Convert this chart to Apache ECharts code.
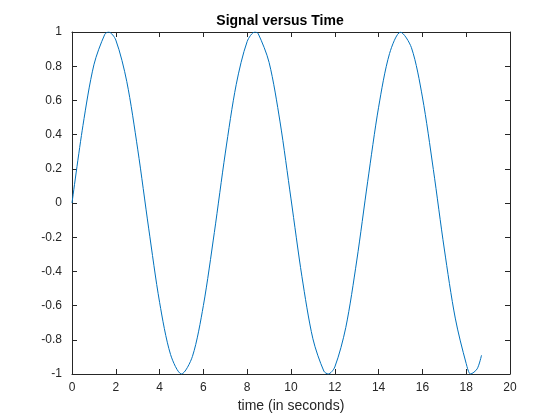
<!DOCTYPE html>
<html>
<head>
<meta charset="utf-8">
<script src="https://cdn.jsdelivr.net/npm/echarts@6/dist/echarts.min.js"></script>
<style>html,body{margin:0;background:#fff}#main{width:560px;height:420px}</style>
</head>
<body>
<div id="main"></div>
<script>
// values
var time = [0, 0.5, 1, 1.5, 1.67, 2, 2.5, 3, 3.5, 4, 4.5, 5, 5.5, 6, 6.5, 7, 7.5, 8, 8.35, 8.5, 9, 9.5,
  10, 10.5, 11, 11.5, 11.7, 12, 12.5, 13, 13.5, 14, 14.5, 15, 15.5, 16, 16.5, 17, 17.5, 18, 18.2, 18.5, 18.7];
var signal = [0, 0.453, 0.808, 0.987, 1.0, 0.953, 0.711, 0.315, -0.147, -0.581, -0.886, -1.0, -0.897,
  -0.599, -0.172, 0.292, 0.694, 0.945, 1.0, 0.991, 0.822, 0.474, 0.024, -0.431, -0.794, -0.983, -1.0, -0.959,
  -0.729, -0.339, 0.124, 0.56, 0.874, 0.999, 0.908, 0.62, 0.196, -0.269, -0.673, -0.939, -1.0, -0.97, -0.89];

var pts = time.map(function (t, i) { return [t, signal[i]]; });
var chart = echarts.init(document.getElementById('main'));

var txt = { color: '#262626', fontFamily: 'Liberation Sans, Arial', fontSize: 12 };
var line = { onZero: false, lineStyle: { color: '#262626', width: 1 } };
var tick = { inside: true, length: 5, lineStyle: { color: '#262626', width: 1 } };

chart.setOption({
  animation: false,
  title: {
    text: 'Signal versus Time', left: 'center', top: 9,
    textStyle: { fontFamily: 'Liberation Sans, Arial', fontSize: 14, fontWeight: 'bold', color: '#000' }
  },
  grid: { left: 72, right: 50, top: 32, bottom: 46 },
  xAxis: [{
    type: 'value', min: 0, max: 20, interval: 2,
    name: 'time (in seconds)', nameLocation: 'middle', nameGap: 22,
    nameTextStyle: { color: '#262626', fontFamily: 'Liberation Sans, Arial', fontSize: 14 },
    axisLine: line, axisTick: tick,
    axisLabel: Object.assign({ margin: 8 }, txt), splitLine: { show: false }
  }, {
    type: 'value', position: 'top', min: 0, max: 20, interval: 2,
    axisLine: line, axisTick: tick, axisLabel: { show: false }, splitLine: { show: false }
  }],
  yAxis: [{
    type: 'value', min: -1, max: 1, interval: 0.2,
    axisLine: line, axisTick: tick,
    axisLabel: Object.assign({ margin: 10 }, txt), splitLine: { show: false }
  }, {
    type: 'value', position: 'right', min: -1, max: 1, interval: 0.2,
    axisLine: line, axisTick: tick, axisLabel: { show: false }, splitLine: { show: false }
  }],
  series: [{
    type: 'line', data: pts, smooth: 0.3, showSymbol: false, clip: true,
    lineStyle: { color: '#0072BD', width: 1 }
  }]
});
</script>
</body>
</html>
